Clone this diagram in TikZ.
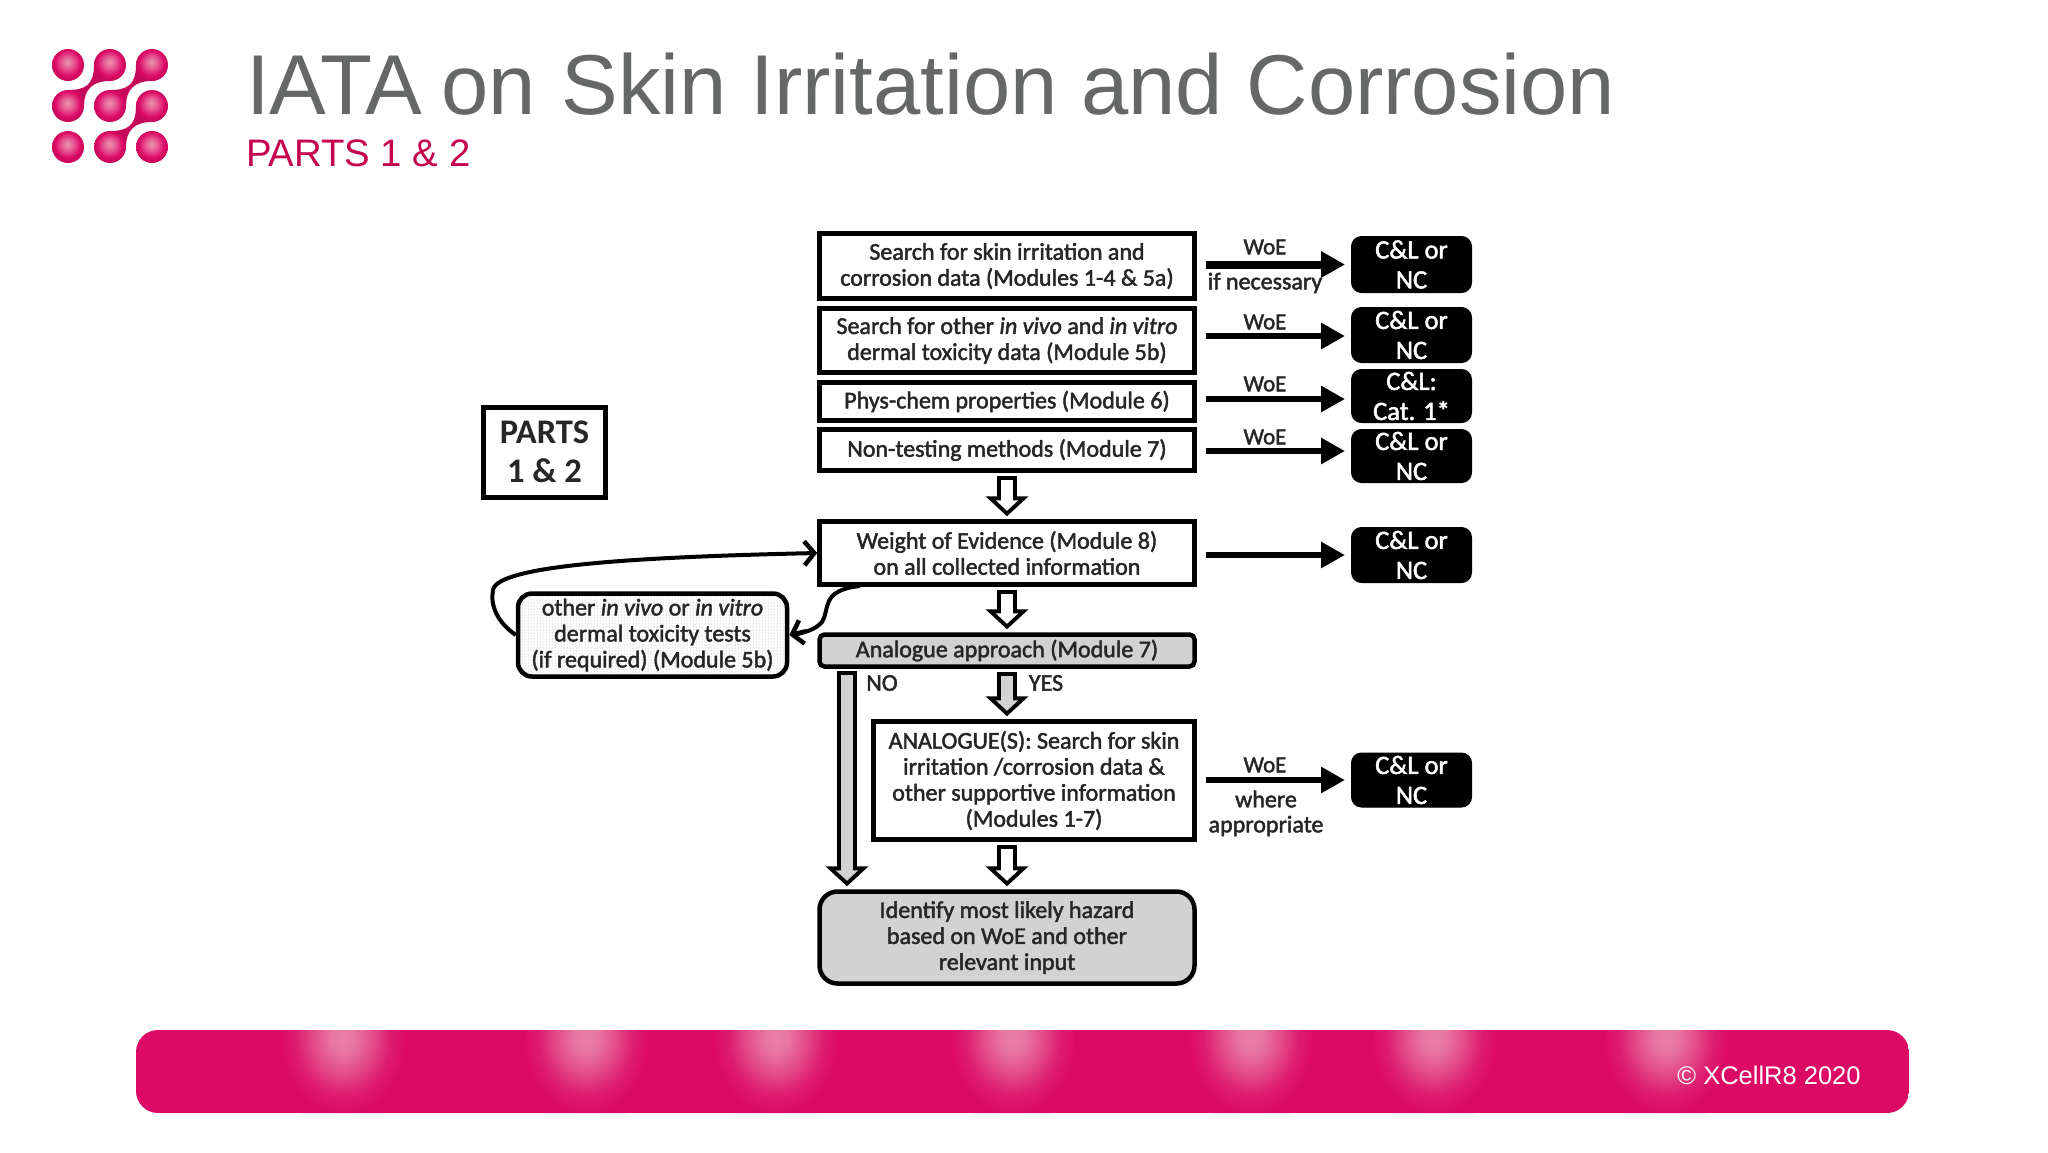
\documentclass[tikz,border=0pt]{standalone}
\usepackage{fontspec}
\setmainfont{Liberation Sans}
\newfontfamily\dg[FakeBold=1.9]{Carlito}
\newfontfamily\dgb{Carlito}
\usetikzlibrary{arrows.meta,calc,patterns}
\definecolor{pinkmain}{HTML}{DC0A64}
\definecolor{pinkdark}{HTML}{C40A58}
\definecolor{pinklight}{HTML}{E97FA6}
\definecolor{subpink}{HTML}{C4004F}
\definecolor{titlegray}{HTML}{666868}
\definecolor{boxgray}{HTML}{D2D2D2}
\pgfdeclareradialshading{logoball}{\pgfpoint{-1bp}{5bp}}{%
 color(0bp)=(pinklight!90!white); color(4bp)=(pinklight); color(12bp)=(pinkmain!75!white); color(20bp)=(pinkmain); color(27bp)=(pinkdark); color(50bp)=(pinkdark)}
\pgfdeclareradialshading{barglow}{\pgfpoint{0bp}{0bp}}{%
 color(0bp)=(pinklight); color(4bp)=(pinklight!92!pinkmain); color(10bp)=(pinklight!55!pinkmain); color(16bp)=(pinklight!15!pinkmain); color(21bp)=(pinkmain); color(50bp)=(pinkmain)}
\tikzset{
 dgbox/.style={draw=black,line width=4.5pt,fill=white,align=center,inner sep=0pt,font=\dg\fontsize{24}{26}\selectfont,text=black!85},
 wbox/.style={dgbox,minimum width=375pt},
 catbox/.style={draw=black,fill=black,rounded corners=10pt,line width=1pt,minimum width=120pt,align=center,inner sep=0pt,text=white,font=\dg\fontsize{26.5}{30}\selectfont},
 lab/.style={inner sep=0pt,text=black!85,font=\dg\fontsize{23}{26}\selectfont},
 labw/.style={inner sep=0pt,text=black!85,font=\dg\fontsize{24}{26}\selectfont},
 fat/.style={line width=6pt,shorten <=9pt,shorten >=6pt,-{Triangle[length=24pt,width=25pt]}},
 holo/.style={line width=20pt,black,shorten <=3pt,shorten >=3pt,-{Triangle[length=20pt,width=42pt]}},
 holi/.style={line width=12pt,shorten <=7pt,shorten >=8.5pt,-{Triangle[length=10.5pt,width=22pt]}},
 barb/.style={line width=4pt,-{Straight Barb[length=10pt,width=24pt,line width=4.5pt]}},
}
\newcommand{\hollowarrow}[3]{\draw[holo] (#2) -- (#3); \draw[holi,#1] (#2) -- (#3);}
\newcommand{\logolink}[2]{%
 \fill[pinkdark,shift={(#1,#2)}] (94,65) .. controls (94,85) and (85,90) .. (68,90) -- (84,106) .. controls (84,90) and (92,81) .. (110,81) -- cycle;}
\begin{document}
\begin{tikzpicture}[x=1pt,y=-1pt]
\useasboundingbox (0,0) rectangle (2048,1152);
\fill[white] (0,0) rectangle (2048,1152);
% logo
\logolink{0}{0}
\logolink{42}{0}
\logolink{42}{41}
\foreach \px in {68,110,152}\foreach \py in {65,106,147}{
  \shade[shading=logoball] (\px,\py) circle (16);
}
% title
\node[anchor=base west,inner sep=0pt,text=titlegray,font=\fontsize{85}{90}\selectfont] (title) at (246,114) {IATA\kern-5pt{} on\kern2.5pt{} Skin Irritation and Corrosion};
\node[anchor=base west,inner sep=0pt,text=subpink,font=\fontsize{38.3}{40}\selectfont] (subtitle) at (246,166) {PARTS 1 \& 2};
% footer bar
\begin{scope}
\clip[rounded corners=22pt] (136,1030) rectangle (1909,1113);
\fill[pinkmain] (136,1030) rectangle (1909,1113);
\foreach \hx in {343,586,776,1013,1251,1434,1666}{
  \shade[shading=barglow] (\hx,1038) ellipse (75 and 90);
}
\end{scope}
\node[inner sep=0pt,text=white,font=\fontsize{25.5}{28}\selectfont] (copy) at (1769,1075) {© XCellR8 2020};
% parts
\node[draw=black,line width=5pt,inner sep=0pt,minimum width=122pt,minimum height=90pt,align=center,text=black!85,font=\dgb\bfseries\fontsize{34.5}{39}\selectfont] (parts) at (544.5,452) {PARTS\\1 \& 2};
% boxes
\node[wbox,minimum height=65pt] (b1) at (1007,266) {Search for skin irritation and\\corrosion data (Modules 1-4 \& 5a)};
\node[wbox,minimum height=64pt] (b2) at (1007,340.5) {Search for other \textit{in vivo} and \textit{in vitro}\\dermal toxicity data (Module 5b)};
\node[wbox,minimum height=38pt] (b3) at (1007,401.5) {Phys-chem properties (Module 6)};
\node[wbox,minimum height=41pt] (b4) at (1007,450) {Non-testing methods (Module 7)};
\node[wbox,minimum height=63pt] (wt) at (1007,553) {Weight of Evidence (Module 8)\\on all collected information};
\node[wbox,minimum height=32pt,fill=boxgray,rounded corners=5pt] (an) at (1007,650.5) {Analogue approach (Module 7)};
\node[dgbox,minimum width=321pt,minimum height=118pt] (as) at (1034,780.5) {ANALOGUE(S): Search for skin\\irritation /corrosion data \&\\other supportive information\\(Modules 1-7)};
\node[wbox,minimum height=92pt,fill=boxgray,rounded corners=18pt] (hz) at (1007,937.5) {Identify most likely hazard\\based on WoE and other\\relevant input};
\node[dgbox,minimum width=269pt,minimum height=83pt,rounded corners=14pt,preaction={fill=white},pattern=dots,pattern color=black!35] (ot) at (652.5,635) {other \textit{in vivo} or \textit{in vitro}\\dermal toxicity tests\\(if required) (Module 5b)};
% result boxes
\node[catbox,minimum height=56pt] (r1) at (1411.5,264.5) {C\&L or\\NC};
\node[catbox,minimum height=55pt] (r2) at (1411.5,335) {C\&L or\\NC};
\node[catbox,minimum height=53pt] (r3) at (1411.5,396) {C\&L:\\Cat. 1*};
\node[catbox,minimum height=53pt] (r4) at (1411.5,456) {C\&L or\\NC};
\node[catbox,minimum height=55pt] (r5) at (1411.5,555) {C\&L or\\NC};
\node[catbox,minimum height=54pt] (r6) at (1411.5,780) {C\&L or\\NC};
% side arrows
\coordinate (e1) at (r1.west);
\coordinate (e2) at ([yshift=-1pt]r2.west);
\coordinate (e3) at ([yshift=-3pt]r3.west);
\coordinate (e4) at ([yshift=5pt]r4.west);
\coordinate (e5) at (r5.west);
\coordinate (e6) at (r6.west);
\draw[fat,line width=8pt] (e1 -| b1.east) -- (e1);
\draw[fat] (e2 -| b2.east) -- (e2);
\draw[fat] (e3 -| b3.east) -- (e3);
\draw[fat] (e4 -| b4.east) -- (e4);
\draw[fat] (e5 -| wt.east) -- (e5);
\draw[fat] (e6 -| as.east) -- (e6);
% labels
\node[lab] (w1) at (1265,247) {WoE};
\node[labw] (w1b) at (1265,283) {if necessary};
\node[lab] (w2) at (1265,322) {WoE};
\node[lab] (w3) at (1265,384) {WoE};
\node[lab] (w4) at (1265,437) {WoE};
\node[lab] (w6) at (1265,765) {WoE};
\node[labw] (w6b) at (1266,799) {where};
\node[labw] (w6c) at (1266,826) {appropriate};
\node[labw] (nolab) at (882,683) {NO};
\node[labw] (yeslab) at (1046,683) {YES};
% hollow arrows
\hollowarrow{white}{b4.south}{wt.north}
\hollowarrow{white}{wt.south}{an.north}
\coordinate (asin) at (an.south);
\hollowarrow{boxgray}{asin}{asin |- as.north}
\coordinate (hzin) at (asin |- as.south);
\hollowarrow{white}{hzin}{hz.north}
\coordinate (noa) at (847,668);
\hollowarrow{boxgray}{noa}{noa |- hz.north}
% curves
\coordinate (cu) at (493,590);
\coordinate (cv) at (860,586);
\draw[barb] (ot.west) .. controls (497,622) and (490,605) .. (cu) .. controls (497,565) and (640,557) .. (wt.west);
\draw[line width=4pt] (cv) .. controls (820,590) and (830,610) .. (822,622) .. controls (815,630) and (805,632) .. (794,635);
\draw[barb] (806,631) -- (ot.east);
\end{tikzpicture}
\end{document}
